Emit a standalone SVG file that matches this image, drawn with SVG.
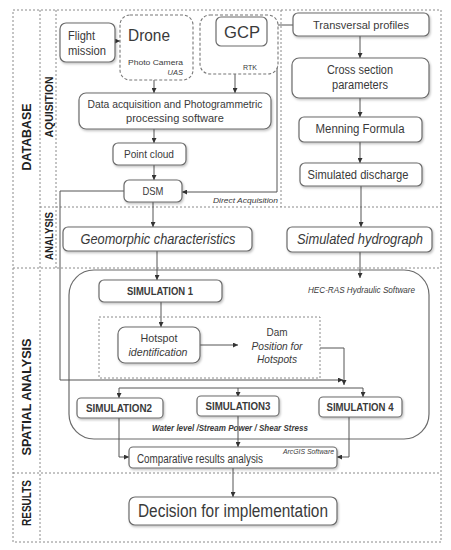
<svg xmlns="http://www.w3.org/2000/svg" width="451" height="550" viewBox="0 0 451 550">
<style>
text{font-family:"Liberation Sans",Arial,sans-serif;fill:#3a3a3a}
.sec{fill:none;stroke:#8a8a8a;stroke-width:1;stroke-dasharray:2,2}
.box{fill:#fff;stroke:#6b6b6b;stroke-width:1.2}
.dbox{fill:#fff;stroke:#777;stroke-width:1.1;stroke-dasharray:3,2}
.c{fill:none;stroke:#555;stroke-width:1}
.lab{font-weight:bold;fill:#222}
.m{text-anchor:middle}
.i{font-style:italic}
</style>
<defs>
<marker id="a" markerWidth="5" markerHeight="5" refX="5" refY="2.5" orient="auto" markerUnits="userSpaceOnUse"><path d="M0,0 L5,2.5 L0,5 z" fill="#333"/></marker>
<filter id="sh" x="-10%" y="-10%" width="120%" height="130%"><feDropShadow dx="1" dy="1.5" stdDeviation="1" flood-color="#000" flood-opacity="0.25"/></filter>
</defs>
<rect width="451" height="550" fill="#fff"/>
<g id="sections">
<rect class="sec" x="13" y="10" width="428" height="532"/>
<line class="sec" x1="40" y1="10" x2="40" y2="542"/>
<line class="sec" x1="56" y1="10" x2="56" y2="268"/>
<line class="sec" x1="281" y1="10" x2="281" y2="207"/>
<line class="sec" x1="40" y1="207" x2="441" y2="207"/>
<line class="sec" x1="13" y1="268" x2="441" y2="268"/>
<line class="sec" x1="13" y1="473" x2="441" y2="473"/>
<text class="lab m" font-size="13" transform="rotate(-90 31 137)" x="31" y="137" textLength="67" lengthAdjust="spacingAndGlyphs">DATABASE</text>
<text class="lab m" font-size="10" transform="rotate(-90 53 107)" x="53" y="107" textLength="61" lengthAdjust="spacingAndGlyphs">AQUISITION</text>
<text class="lab m" font-size="10" transform="rotate(-90 53 236)" x="53" y="236" textLength="48" lengthAdjust="spacingAndGlyphs">ANALYSIS</text>
<text class="lab m" font-size="13" transform="rotate(-90 31 397)" x="31" y="397" textLength="117" lengthAdjust="spacingAndGlyphs">SPATIAL ANALYSIS</text>
<text class="lab m" font-size="13" transform="rotate(-90 31 503)" x="31" y="503" textLength="46" lengthAdjust="spacingAndGlyphs">RESULTS</text>
<text class="i" font-size="8" x="213" y="203" textLength="65" lengthAdjust="spacingAndGlyphs">Direct Acquisition</text>
</g>
<g id="hecras">
<rect x="69" y="270" width="360" height="169" rx="25" fill="none" stroke="#6b6b6b" stroke-width="1.2"/>
<text class="i" font-size="8.5" x="308" y="293" textLength="107" lengthAdjust="spacingAndGlyphs">HEC-RAS Hydraulic Software</text>
<text class="i" font-size="8.5" font-weight="bold" fill="#444" x="152" y="431" textLength="156" lengthAdjust="spacingAndGlyphs">Water level /Stream Power / Shear Stress</text>
</g>
<g id="connectors">
<path class="c" marker-end="url(#a)" d="M115,41 H120"/>
<path class="c" marker-end="url(#a)" d="M154,80 V93"/>
<path class="c" marker-end="url(#a)" d="M235,74 V93"/>
<path class="c" marker-end="url(#a)" d="M154,129 V143"/>
<path class="c" marker-end="url(#a)" d="M154,165 V180"/>
<path class="c" marker-end="url(#a)" d="M293,25 H277 V192 H182"/>
<path class="c" marker-end="url(#a)" d="M153,202 V227"/>
<path class="c" marker-end="url(#a)" d="M124,191 H60 V380 H343"/>
<path class="c" marker-end="url(#a)" d="M360,36 V58"/>
<path class="c" marker-end="url(#a)" d="M360,98 V117"/>
<path class="c" marker-end="url(#a)" d="M360,142 V163"/>
<path class="c" marker-end="url(#a)" d="M361,186 V227"/>
<path class="c" marker-end="url(#a)" d="M360,252 V278"/>
<path class="c" marker-end="url(#a)" d="M157,251 V280"/>
<path class="c" marker-end="url(#a)" d="M161,302 V327"/>
<path class="c" marker-end="url(#a)" d="M200,345 H238"/>
<path class="c" marker-end="url(#a)" d="M320,348 H344 V385"/>
<path class="c" d="M119,388 H363"/>
<path class="c" marker-end="url(#a)" d="M119,388 V398"/>
<path class="c" marker-end="url(#a)" d="M238,388 V397"/>
<path class="c" marker-end="url(#a)" d="M363,388 V397"/>
<path class="c" marker-end="url(#a)" d="M119,418 V457 H129"/>
<path class="c" marker-end="url(#a)" d="M238,416 V447"/>
<path class="c" marker-end="url(#a)" d="M349,416 V457 H337"/>
<path class="c" marker-end="url(#a)" d="M233,468 V497"/>
</g>
<g id="flight">
<rect class="box" x="60" y="23" width="55" height="39" rx="6" filter="url(#sh)"/>
<text font-size="12" x="68" y="40" textLength="27" lengthAdjust="spacingAndGlyphs">Flight</text>
<text font-size="12" x="68" y="55" textLength="38" lengthAdjust="spacingAndGlyphs">mission</text>
</g>
<g id="drone">
<rect class="dbox" x="120" y="15" width="73" height="65" rx="10"/>
<text font-size="17" x="128" y="41" textLength="42" lengthAdjust="spacingAndGlyphs">Drone</text>
<text font-size="7.5" x="128" y="65" textLength="55" lengthAdjust="spacingAndGlyphs">Photo Camera</text>
<text class="i" font-size="7.5" x="183" y="75" text-anchor="end">UAS</text>
</g>
<g id="gcp">
<rect class="dbox" x="200" y="15" width="78" height="59" rx="10"/>
<rect class="box" x="216" y="17" width="51" height="29" rx="5"/>
<text class="m" font-size="17" x="242" y="38" textLength="36" lengthAdjust="spacingAndGlyphs">GCP</text>
<text class="m" font-size="7" x="250" y="70" textLength="14" lengthAdjust="spacingAndGlyphs">RTK</text>
</g>
<g id="dataacq">
<rect class="box" x="79" y="93" width="192" height="36" rx="7" filter="url(#sh)"/>
<text class="m" font-size="11" x="175" y="108" textLength="175" lengthAdjust="spacingAndGlyphs">Data acquisition and Photogrammetric</text>
<text class="m" font-size="11" x="175" y="122">processing software</text>
</g>
<g id="pointcloud">
<rect class="box" x="113" y="143" width="73" height="22" rx="5" filter="url(#sh)"/>
<text class="m" font-size="11" x="149" y="158" textLength="50" lengthAdjust="spacingAndGlyphs">Point cloud</text>
</g>
<g id="dsm">
<rect class="box" x="124" y="180" width="58" height="22" rx="5" filter="url(#sh)"/>
<text class="m" font-size="11" x="153" y="195" textLength="21" lengthAdjust="spacingAndGlyphs">DSM</text>
</g>
<g id="transversal">
<rect class="box" x="293" y="13" width="136" height="23" rx="5" filter="url(#sh)"/>
<text class="m" font-size="11.5" x="361" y="29" textLength="96" lengthAdjust="spacingAndGlyphs">Transversal profiles</text>
</g>
<g id="crosssection">
<rect class="box" x="292" y="58" width="137" height="40" rx="7" filter="url(#sh)"/>
<text class="m" font-size="12" x="360" y="74" textLength="66" lengthAdjust="spacingAndGlyphs">Cross section</text>
<text class="m" font-size="12" x="360" y="89" textLength="56" lengthAdjust="spacingAndGlyphs">parameters</text>
</g>
<g id="menning">
<rect class="box" x="299" y="117" width="123" height="25" rx="5" filter="url(#sh)"/>
<text class="m" font-size="12" x="360" y="133" textLength="89" lengthAdjust="spacingAndGlyphs">Menning Formula</text>
</g>
<g id="discharge">
<rect class="box" x="300" y="163" width="122" height="23" rx="5" filter="url(#sh)"/>
<text class="m" font-size="12" x="358" y="179" textLength="101" lengthAdjust="spacingAndGlyphs">Simulated discharge</text>
</g>
<g id="geomorphic">
<rect class="box" x="63" y="227" width="189" height="24" rx="5" filter="url(#sh)"/>
<text class="m i" font-size="14" x="158" y="244" textLength="155" lengthAdjust="spacingAndGlyphs">Geomorphic characteristics</text>
</g>
<g id="hydrograph">
<rect class="box" x="287" y="227" width="145" height="25" rx="5" filter="url(#sh)"/>
<text class="m i" font-size="14" x="360" y="244" textLength="126" lengthAdjust="spacingAndGlyphs">Simulated hydrograph</text>
</g>
<g id="sim1">
<rect class="box" x="99" y="280" width="123" height="22" rx="5" filter="url(#sh)"/>
<text class="m" font-size="10.5" font-weight="bold" x="160" y="295" textLength="66" lengthAdjust="spacingAndGlyphs">SIMULATION 1</text>
</g>
<g id="hotspotarea">
<rect class="sec" x="99" y="317" width="221" height="61"/>
</g>
<g id="hotspot">
<rect class="box" x="118" y="327" width="82" height="36" rx="7" filter="url(#sh)"/>
<text class="m" font-size="11" x="159" y="342" textLength="37" lengthAdjust="spacingAndGlyphs">Hotspot</text>
<text class="m i" font-size="11" x="158" y="356" textLength="59" lengthAdjust="spacingAndGlyphs">identification</text>
</g>
<g id="dam">
<text class="m" font-size="11" x="277" y="336" textLength="21" lengthAdjust="spacingAndGlyphs">Dam</text>
<text class="m i" font-size="11" x="277" y="350" textLength="51" lengthAdjust="spacingAndGlyphs">Position for</text>
<text class="m i" font-size="11" x="277" y="363" textLength="40" lengthAdjust="spacingAndGlyphs">Hotspots</text>
</g>
<g id="sim2">
<rect class="box" x="77" y="398" width="86" height="20" rx="4" filter="url(#sh)"/>
<text class="m" font-size="10.5" font-weight="bold" x="119" y="412" textLength="66" lengthAdjust="spacingAndGlyphs">SIMULATION2</text>
</g>
<g id="sim3">
<rect class="box" x="197" y="396" width="82" height="20" rx="4" filter="url(#sh)"/>
<text class="m" font-size="10.5" font-weight="bold" x="238" y="410" textLength="65" lengthAdjust="spacingAndGlyphs">SIMULATION3</text>
</g>
<g id="sim4">
<rect class="box" x="319" y="397" width="83" height="20" rx="4" filter="url(#sh)"/>
<text class="m" font-size="10.5" font-weight="bold" x="360" y="411" textLength="67" lengthAdjust="spacingAndGlyphs">SIMULATION 4</text>
</g>
<g id="comparative">
<rect class="box" x="129" y="447" width="208" height="21" rx="4" filter="url(#sh)"/>
<text font-size="12" x="137" y="463" textLength="126" lengthAdjust="spacingAndGlyphs">Comparative results analysis</text>
<text class="i" font-size="6.5" x="283" y="454" textLength="51" lengthAdjust="spacingAndGlyphs">ArcGIS Software</text>
</g>
<g id="decision">
<rect class="box" x="129" y="497" width="208" height="28" rx="6" filter="url(#sh)"/>
<text class="m" font-size="18" x="233" y="517" textLength="190" lengthAdjust="spacingAndGlyphs">Decision for implementation</text>
</g>
</svg>
